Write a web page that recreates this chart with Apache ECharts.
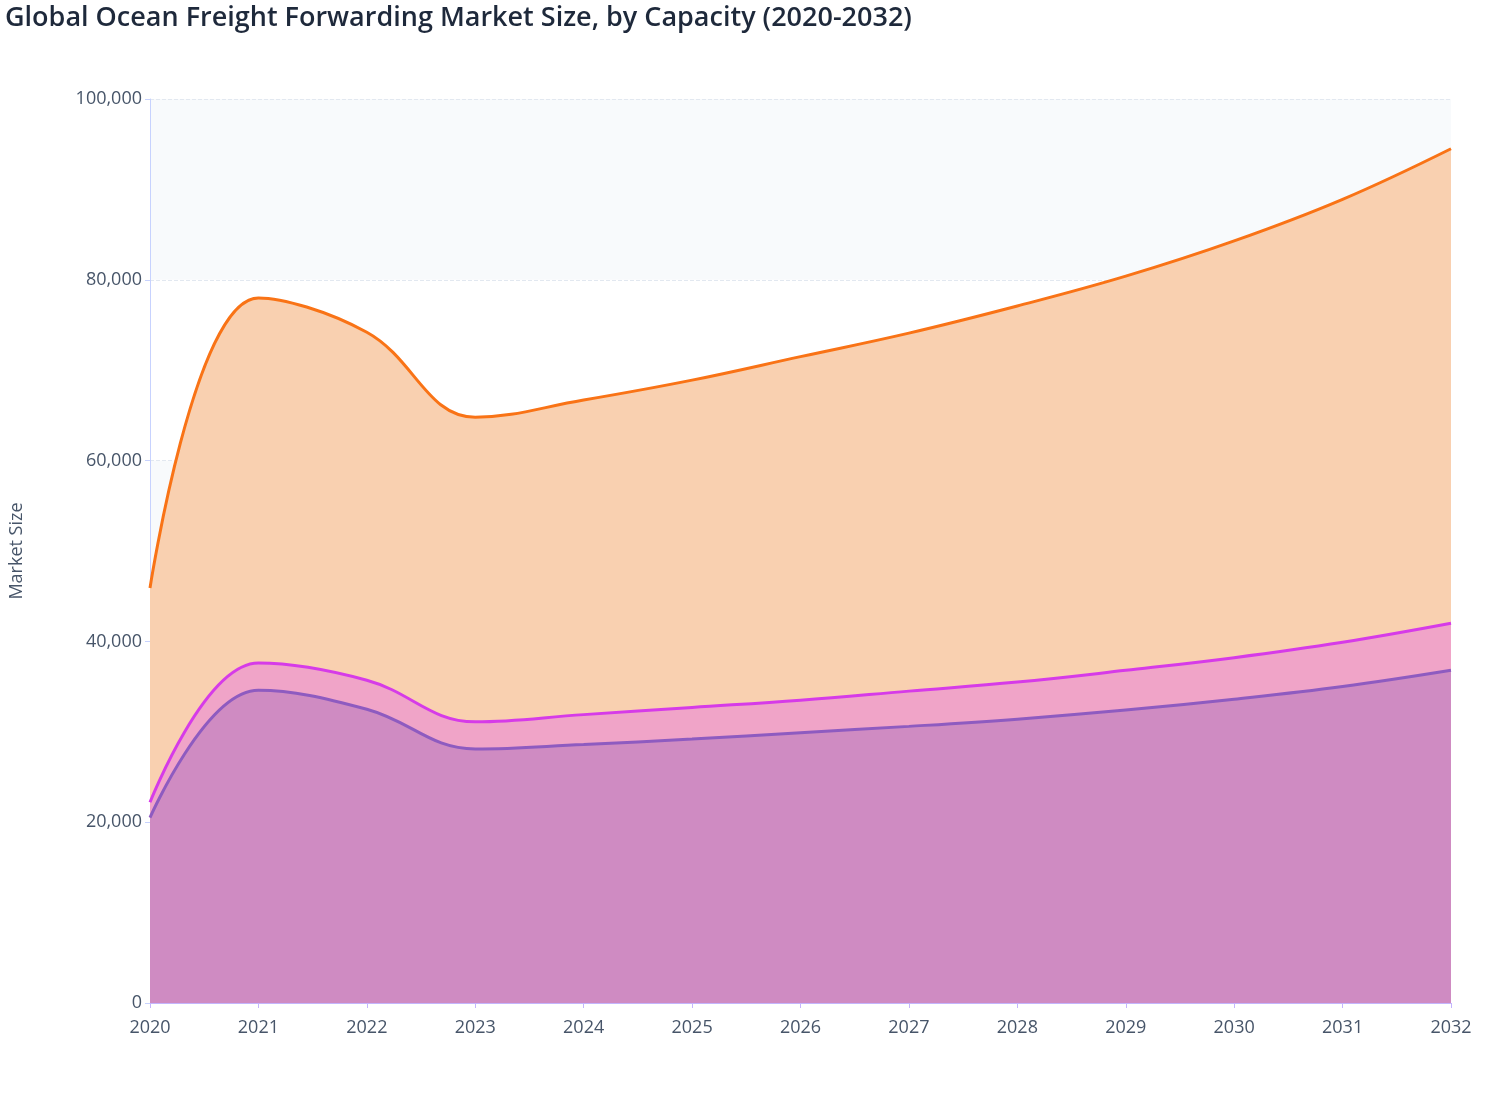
<!DOCTYPE html>
<html><head><meta charset="utf-8">
<script src="https://cdn.jsdelivr.net/npm/echarts@6/dist/echarts.min.js"></script>
<style>html,body{margin:0;padding:0;background:#fff}#c{width:1508px;height:1120px}</style>
</head><body><div id="c"></div>
<script>
const years = ['2020','2021','2022','2023','2024','2025','2026','2027','2028','2029','2030','2031','2032'];
const seriesTotal = [45900,78000,74200,64800,66700,68900,71500,74100,77100,80400,84300,88900,94500];
const seriesMid = [22200,37600,35700,31100,31900,32700,33500,34500,35500,36800,38200,39900,42000];
const seriesLow = [20500,34600,32500,28100,28600,29200,29900,30600,31400,32400,33600,35000,36800];
const seriesNames = ['Total','Segment B','Segment A'];

const chart = echarts.init(document.getElementById('c'));
function mk(name, data, line, fill, z) {
  return {name, type:'line', data, smooth:0.4, symbol:'none', z,
    lineStyle:{color:line, width:3}, itemStyle:{color:line},
    areaStyle:{color:fill, opacity:1}};
}
chart.setOption({
  animation:false,
  title:{text:'Global Ocean Freight Forwarding Market Size, by Capacity (2020-2032)', left:0, top:0,
    textStyle:{fontFamily:'Open Sans', fontSize:27, fontWeight:600, color:'#1e293b'}},
  grid:{left:144, right:57, top:99, bottom:117},
  xAxis:{type:'category', data:years, boundaryGap:false,
    axisLine:{lineStyle:{color:'#c4b5fd'}}, axisTick:{show:true, lineStyle:{color:'#c4b5fd'}},
    axisLabel:{color:'#475569', fontFamily:'Open Sans', fontSize:18, margin:16}},
  yAxis:{type:'value', min:0, max:100000, interval:20000, name:'Market Size', nameLocation:'middle', nameGap:124,
    nameTextStyle:{color:'#475569', fontFamily:'Open Sans', fontSize:18},
    axisLine:{show:true, lineStyle:{color:'#c7d2fe'}}, axisTick:{show:true, lineStyle:{color:'#c7d2fe'}},
    axisLabel:{color:'#475569', fontFamily:'Open Sans', fontSize:18, formatter:v=>v.toLocaleString('en-US')},
    splitLine:{lineStyle:{color:'#e2e8f0', type:'dashed'}},
    splitArea:{show:true, areaStyle:{color:['#f8fafc','#ffffff']}}},
  series:[
    mk(seriesNames[0], seriesTotal, '#f97316', '#f9d0b0', 1),
    mk(seriesNames[1], seriesMid, '#d63be8', '#f0a4c8', 2),
    mk(seriesNames[2], seriesLow, '#8e5bc0', '#cf8bc2', 3)
  ]
});
</script></body></html>
